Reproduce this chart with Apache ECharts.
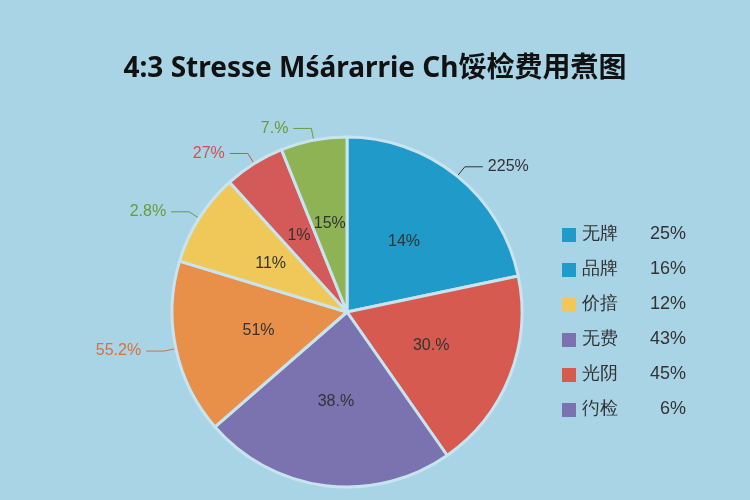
<!DOCTYPE html>
<html>
<head>
<meta charset="utf-8">
<script src="https://cdn.jsdelivr.net/npm/echarts@6/dist/echarts.min.js"></script>
<style>html,body{margin:0;background:#a9d4e6}#c{width:750px;height:500px}</style>
</head>
<body>
<div id="c"></div>
<script>
var sliceValues = [21.7, 18.6, 23.3, 16.1, 8.6, 5.6, 6.1];
var innerLabels = ['14%', '30.%', '38.%', '51%', '11%', '1%', '15%'];
var outerLabels = ['225%', '', '', '55.2%', '2.8%', '27%', '7.%'];
var sliceColors = ['#1f9ac9', '#d65a50', '#7b72b0', '#e8904a', '#f0c85a', '#d45a5a', '#8db354'];
var outerColors = ['#333', '#333', '#333', '#d9703a', '#6a9a3a', '#d05050', '#6a9a3a'];
var legendNames = ['无牌', '品牌', '价揞', '无费', '光阴', '彴检'];
var legendValues = ['25%', '16%', '12%', '43%', '45%', '6%'];
var legendColors = ['#1f9ac9', '#1f9ac9', '#f0c85a', '#7b72b0', '#d65a50', '#7b72b0'];

var myChart = echarts.init(document.getElementById('c'));

var graphic = [];
legendNames.forEach(function(n, i) {
    var y = 235 + i * 35;
    graphic.push({type: 'rect', left: 562, top: y - 7, shape: {width: 14, height: 14}, style: {fill: legendColors[i]}});
    graphic.push({type: 'text', left: 582, top: y - 10, style: {text: n, fontSize: 18, fill: '#333', font: '18px "Noto Sans CJK SC"'}});
    graphic.push({type: 'text', right: 64, top: y - 10, style: {text: legendValues[i], fontSize: 18, fill: '#333', font: '18px "Noto Sans"'}});
});

var option = {
    backgroundColor: '#a9d4e6',
    title: {
        text: '4:3 Stresse Mśárarrie Ch馁检费用煮图',
        left: 'center', top: 50,
        textStyle: {fontSize: 28, fontWeight: 'bold', color: '#111', fontFamily: 'Noto Sans, Noto Sans CJK SC'}
    },
    graphic: graphic,
    series: [{
        type: 'pie',
        center: [347, 312],
        radius: [0, 175],
        startAngle: 90,
        silent: true,
        itemStyle: {borderColor: '#c8e4ef', borderWidth: 3},
        label: {position: 'inside', fontSize: 16, color: '#333', formatter: function(p) { return innerLabels[p.dataIndex]; }},
        data: sliceValues.map(function(v, i) { return {value: v, name: 's' + i, itemStyle: {color: sliceColors[i]}}; })
    }, {
        type: 'pie',
        center: [347, 312],
        radius: [0, 175],
        startAngle: 90,
        silent: true,
        itemStyle: {color: 'rgba(0,0,0,0)'},
        labelLine: {length: 12, length2: 18},
        label: {fontSize: 16},
        data: sliceValues.map(function(v, i) {
            return {value: v, name: 'o' + i,
                label: {show: outerLabels[i] !== '', formatter: outerLabels[i], color: outerColors[i]},
                labelLine: {show: outerLabels[i] !== '', lineStyle: {color: outerColors[i]}}};
        })
    }]
};
myChart.setOption(option);
</script>
</body>
</html>
